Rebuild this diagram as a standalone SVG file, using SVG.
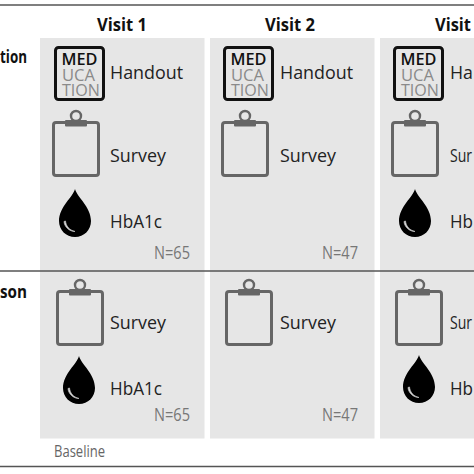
<svg xmlns="http://www.w3.org/2000/svg" width="474" height="474" viewBox="0 0 474 474">
<style>
text{font-family:"Open Sans","Noto Sans","Liberation Sans",sans-serif}
.panel{fill:#e6e6e6}
.rule{stroke:#555;stroke-width:1.6;fill:none}
.h{font-size:17px;font-weight:700;fill:#111}
.side{font-size:17px;font-weight:700;fill:#111}
.lab{font-size:18px;fill:#222}
.n{font-size:18px;fill:#777}
.m{font-size:16.5px;font-weight:600;text-anchor:middle}
.box{fill:none;stroke:#111;stroke-width:3}
.cb{fill:none;stroke:#666;stroke-width:3}
.cc{fill:#666}
.ring{fill:none;stroke:#666;stroke-width:2.4}
</style>
<defs>
<g id="med">
<rect x="1.500" y="1.500" width="48" height="52" rx="3" class="box"/>
<text x="25.500" y="19" class="m" fill="#111" textLength="36" lengthAdjust="spacingAndGlyphs">MED</text>
<text x="24.500" y="34.500" class="m" fill="#8a8a8a" style="font-weight:400" textLength="33" lengthAdjust="spacingAndGlyphs">UCA</text>
<text x="27" y="50" class="m" fill="#8a8a8a" style="font-weight:400" textLength="38" lengthAdjust="spacingAndGlyphs">TION</text>
</g>
<g id="clip">
<rect x="1.500" y="12.500" width="45" height="53" rx="2.500" class="cb"/>
<circle cx="24" cy="6" r="5" class="ring"/>
<rect x="13" y="10" width="22" height="6.500" rx="1" class="cc"/>
</g>
<g id="drop">
<path d="M16 0C18 8 32 18 32 32C32 41 25 48 16 48C7 48 0 41 0 32C0 18 14 8 16 0Z" fill="#000"/>
<path d="M6.500 32C7 37 10 41 16 42.500C11 42.500 5.500 38.500 5 32.500Z" fill="#e6e6e6" stroke="#bbb" stroke-width="0.800"/>
</g>
</defs>
<rect width="474" height="474" fill="#fff"/>
<g id="panels">
<rect class="panel" x="40" y="38" width="164.500" height="400.500"/>
<rect class="panel" x="210" y="38" width="164.500" height="400.500"/>
<rect class="panel" x="380" y="38" width="94" height="400.500"/>
</g>
<g id="rules">
<line class="rule" x1="0" y1="5" x2="474" y2="5"/>
<line class="rule" x1="0" y1="271" x2="474" y2="271"/>
<line class="rule" x1="0" y1="466.500" x2="474" y2="466.500"/>
</g>
<g id="headers">
<text class="h" x="97" y="30.500" textLength="50" lengthAdjust="spacingAndGlyphs">Visit 1</text>
<text class="h" x="265" y="30.500" textLength="50" lengthAdjust="spacingAndGlyphs">Visit 2</text>
<text class="h" x="435" y="30.500" textLength="36" lengthAdjust="spacingAndGlyphs">Visit</text>
<text class="side" x="0" y="63" textLength="27" lengthAdjust="spacingAndGlyphs">tion</text>
<text class="side" x="0" y="298" textLength="27" lengthAdjust="spacingAndGlyphs">son</text>
</g>
<g id="visit1-intervention">
<use href="#med" x="54" y="46"/><text class="lab" x="110" y="79" textLength="73" lengthAdjust="spacingAndGlyphs">Handout</text>
<use href="#clip" x="52" y="110"/><text class="lab" x="110" y="162" textLength="56" lengthAdjust="spacingAndGlyphs">Survey</text>
<use href="#drop" x="59" y="189"/><text class="lab" x="110" y="228" textLength="52" lengthAdjust="spacingAndGlyphs">HbA1c</text>
<text class="n" x="154" y="259" textLength="36" lengthAdjust="spacingAndGlyphs">N=65</text>
</g>
<g id="visit2-intervention">
<use href="#med" x="223" y="46"/><text class="lab" x="280" y="79" textLength="73" lengthAdjust="spacingAndGlyphs">Handout</text>
<use href="#clip" x="221" y="110"/><text class="lab" x="280" y="162" textLength="56" lengthAdjust="spacingAndGlyphs">Survey</text>
<text class="n" x="322" y="259" textLength="36" lengthAdjust="spacingAndGlyphs">N=47</text>
</g>
<g id="visit3-intervention">
<use href="#med" x="393" y="46"/><text class="lab" x="450" y="79" textLength="23" lengthAdjust="spacingAndGlyphs">Ha</text>
<use href="#clip" x="391" y="110"/><text class="lab" x="450" y="162" textLength="22" lengthAdjust="spacingAndGlyphs">Sur</text>
<use href="#drop" x="399" y="189"/><text class="lab" x="450" y="228" textLength="23" lengthAdjust="spacingAndGlyphs">Hb</text>
</g>
<g id="visit1-comparison">
<use href="#clip" x="56" y="279"/><text class="lab" x="110" y="329" textLength="56" lengthAdjust="spacingAndGlyphs">Survey</text>
<use href="#drop" x="63" y="356"/><text class="lab" x="110" y="395" textLength="52" lengthAdjust="spacingAndGlyphs">HbA1c</text>
<text class="n" x="154" y="421" textLength="36" lengthAdjust="spacingAndGlyphs">N=65</text>
<text x="54" y="457" font-size="16" fill="#666" textLength="51" lengthAdjust="spacingAndGlyphs">Baseline</text>
</g>
<g id="visit2-comparison">
<use href="#clip" x="225" y="279"/><text class="lab" x="280" y="329" textLength="56" lengthAdjust="spacingAndGlyphs">Survey</text>
<text class="n" x="322" y="421" textLength="36" lengthAdjust="spacingAndGlyphs">N=47</text>
</g>
<g id="visit3-comparison">
<use href="#clip" x="395" y="279"/><text class="lab" x="450" y="329" textLength="22" lengthAdjust="spacingAndGlyphs">Sur</text>
<use href="#drop" x="403" y="355"/><text class="lab" x="450" y="395" textLength="23" lengthAdjust="spacingAndGlyphs">Hb</text>
</g>
</svg>
